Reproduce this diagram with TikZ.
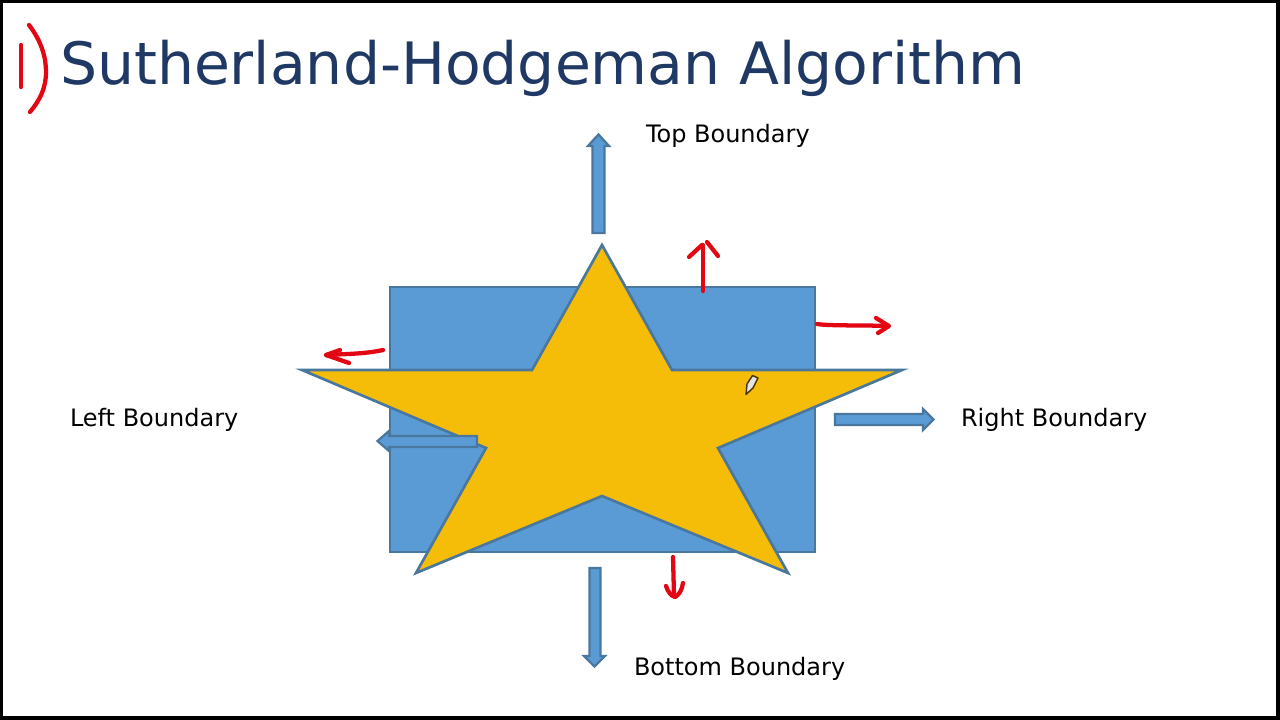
\documentclass[tikz,border=0pt]{standalone}
\usepackage{fontspec}
\setmainfont{DejaVu Sans}
\definecolor{boxblue}{HTML}{5B9BD5}
\definecolor{edgeblue}{HTML}{4A779E}
\definecolor{stargold}{HTML}{F5BC08}
\definecolor{titleblue}{HTML}{1F3864}
\definecolor{penred}{HTML}{E30613}
\tikzset{
  blockshape/.style={draw=edgeblue,fill=boxblue,line join=miter,line width=1.7pt},
  pen/.style={draw=penred,line width=3.2pt,line cap=round,line join=round},
  label/.style={anchor=base west,inner sep=0pt,outer sep=0pt,font=\fontsize{18pt}{20pt}\selectfont,text=black}
}
\begin{document}
\begin{tikzpicture}[y=0.75pt, x=0.75pt, yscale=-1.000000, xscale=1.000000, inner sep=0pt, outer sep=0pt]
  \useasboundingbox (0,0) rectangle (1280,720);
  % frame
  \path[fill=black] (0,0) rectangle (1280,720);
  \path[fill=white] (3,3) rectangle (1276,716);

  \path[blockshape,line width=1.6pt] (390,287) rectangle (815,552);
  \path[blockshape,fill=stargold,line width=2pt]
    (602,245) -- (672,370) -- (902,370) -- (718,448) -- (788,573) --
    (602,496) -- (416,573) -- (486,448) -- (302,370) -- (532,370) -- cycle;

  % block arrows
  \path[blockshape] (592.5,233) -- (592.5,146) -- (588,146) -- (598.5,134.5) --
    (609,146) -- (604.5,146) -- (604.5,233) -- cycle;
  \path[blockshape] (835,414) -- (923,414) -- (923,409) -- (933.5,419.5) --
    (923,430) -- (923,425) -- (835,425) -- cycle;
  \path[blockshape] (589.5,568) -- (600.5,568) -- (600.5,656) -- (605,656) --
    (594.5,666.5) -- (584,656) -- (589.5,656) -- cycle;
  \path[blockshape] (477,436) -- (389,436) -- (389,431) -- (377.5,441) --
    (389,451) -- (389,447) -- (477,447) -- cycle;

  % texts
  \path (60,85) node[label,font=\fontsize{43.8pt}{46pt}\selectfont,text=titleblue] (title) {Sutherland-Hodgeman Algorithm};
  \path (646,143) node[label] (toplabel) {Top Boundary};
  \path (70,426) node[label] (leftlabel) {Left Boundary};
  \path (961,426) node[label] (rightlabel) {Right Boundary};
  \path (634,675) node[label] (bottomlabel) {Bottom Boundary};

  % pen strokes
  \path[pen] (21,45) -- (21,87);
  \path[pen] (29,25) .. controls (42,42) and (46,58) .. (46,72) ..
    controls (46,88) and (40,100) .. (30,112);
  \path[pen] (703,291) -- (703,245);
  \path[pen] (689,257) -- (702,245);
  \path[pen] (707,242) -- (718,256);
  \path[pen] (817,324) .. controls (830,326) and (860,325) .. (888,326);
  \path[pen] (876,318) -- (889,326) -- (878,333);
  \path[pen] (383,350) .. controls (365,354) and (345,354) .. (326,355);
  \path[pen] (340,350) -- (326,355) -- (349,363);
  \path[pen] (673,557) -- (674,596);
  \path[pen] (666,586) .. controls (668,592) and (671,596) .. (675,597) ..
    controls (679,595) and (682,590) .. (683,583);

  % pencil cursor
  \path[draw=black!70!stargold,fill=white!90!black,line width=1.1pt,line join=round]
    (746,394.5) -- (747,384) -- (752.5,375.5) -- (758,378) -- (753,388) -- cycle;
\end{tikzpicture}
\end{document}
